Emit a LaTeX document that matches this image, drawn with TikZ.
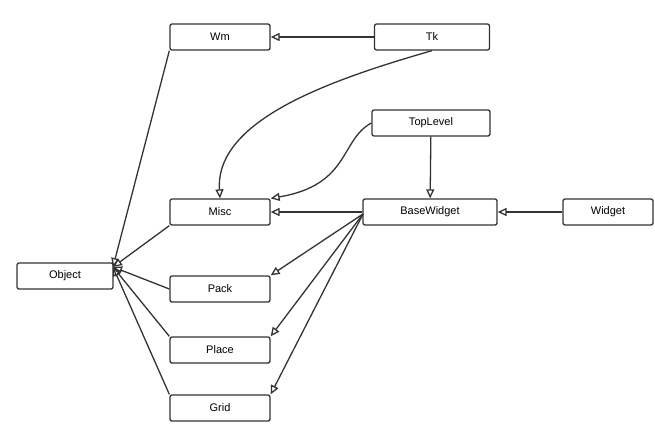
\documentclass[tikz,border=0pt]{standalone}
\usepackage{fontspec}
\setmainfont{Liberation Sans}
\usetikzlibrary{arrows.meta}
\begin{document}
\begin{tikzpicture}[x=1pt,y=-1pt,
 box/.style={draw=black!80,line width=1.3pt,rounded corners=2pt,minimum height=26pt,inner sep=0pt,font=\fontsize{11}{13}\selectfont},
 ar/.style={draw=black!80,line width=1.3pt,-{Triangle[open,length=9pt,width=8pt]}}]
\useasboundingbox (0,0) rectangle (655,439);
\node[box,minimum width=96pt] (obj) at (65,276) {Object};
\node[box,minimum width=100pt] (wm) at (220,37) {Wm};
\node[box,minimum width=115pt] (tk) at (432,37) {Tk};
\node[box,minimum width=118pt] (top) at (431,123) {TopLevel};
\node[box,minimum width=100pt] (misc) at (220,212) {Misc};
\node[box,minimum width=134pt] (bw) at (430,212) {BaseWidget};
\node[box,minimum width=90pt] (wd) at (608,212) {Widget};
\node[box,minimum width=100pt] (pack) at (220,289) {Pack};
\node[box,minimum width=100pt] (place) at (220,350) {Place};
\node[box,minimum width=100pt] (grid) at (220,408) {Grid};
\coordinate (oe) at (113,267);
\coordinate (bl) at (363,214);
\draw[ar] (tk) -- (wm);
\draw[ar] (tk.south) .. controls (330,80) and (215,120) .. (misc.north);
\draw[ar] (top.west) .. controls (340,140) and (350,185) .. (misc.north east);
\draw[ar] (top) -- (bw);
\draw[ar] (bw) -- (misc);
\draw[ar] (wd) -- (bw);
\draw[ar] (bl) -- (pack.north east);
\draw[ar] (bl) -- (place.north east);
\draw[ar] (bl) -- (grid.north east);
\draw[ar] (wm.south west) -- (oe);
\draw[ar] (misc.south west) -- (oe);
\draw[ar] (pack.west) -- (oe);
\draw[ar] (place.north west) -- (oe);
\draw[ar] (grid.north west) -- (oe);
\end{tikzpicture}
\end{document}
